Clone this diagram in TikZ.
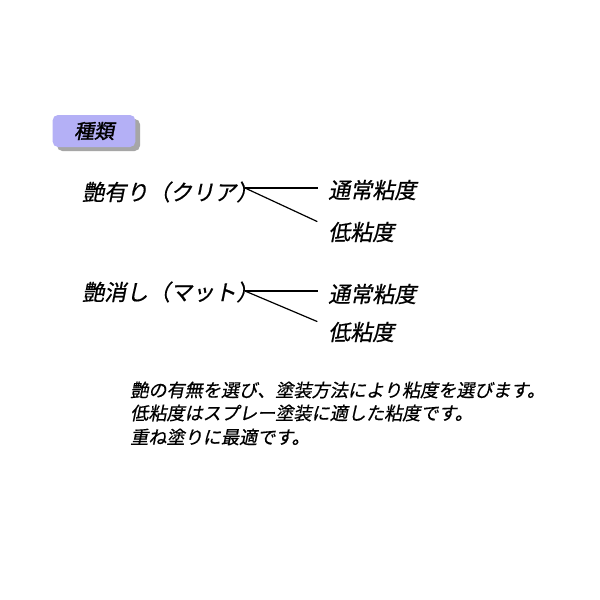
\documentclass[tikz,border=0pt]{standalone}
\usepackage{fontspec}
\newfontfamily\cjk[FakeSlant=0.2,FakeBold=0.6]{Noto Sans CJK JP}
\newfontfamily\cjkb[FakeSlant=0.2,FakeBold=1.5]{Noto Sans CJK JP}
\definecolor{lav}{HTML}{B4B0F6}
\tikzset{lbl/.style={anchor=west,inner sep=0pt,font=\cjk\fontsize{16.5pt}{18pt}\selectfont},
 para/.style={anchor=west,inner sep=0pt,font=\cjk\fontsize{13.6pt}{15pt}\selectfont},
 conn/.style={line width=0.9pt,black}}
\begin{document}
\begin{tikzpicture}[x=0.75pt,y=-0.75pt]
\useasboundingbox[fill=white] (0,0) rectangle (600,600);
\fill[gray!70,rounded corners=4pt] (57,119) rectangle (140,151);
\node[fill=lav,rounded corners=4pt,minimum width=62pt,minimum height=24pt,font=\cjkb\fontsize{15pt}{17pt}\selectfont] (t) at (94,131) {種類};
\node[lbl] (a) at (82,192) {艶有り（クリア）};
\coordinate (ja) at (245,188);
\node[lbl] (a1) at (328,190) {通常粘度};
\node[lbl] (a2) at (328,232) {低粘度};
\draw[conn] (ja) -- ([xshift=-7.5pt]a1.west|-ja);
\draw[conn] (ja) -- ([xshift=-8pt]a2.north west);
\node[lbl] (b) at (82,292) {艶消し（マット）};
\coordinate (jb) at (245,291);
\node[lbl] (b1) at (328,294) {通常粘度};
\node[lbl] (b2) at (328,332) {低粘度};
\draw[conn] (jb) -- ([xshift=-7.5pt]b1.west|-jb);
\draw[conn] (jb) -- ([xshift=-8pt]b2.north west);
\node[para] (p1) at (130,390) {艶の有無を選び、塗装方法により粘度を選びます。};
\node[para] (p2) at (130,413) {低粘度はスプレー塗装に適した粘度です。};
\node[para] (p3) at (130,437) {重ね塗りに最適です。};
\end{tikzpicture}
\end{document}
